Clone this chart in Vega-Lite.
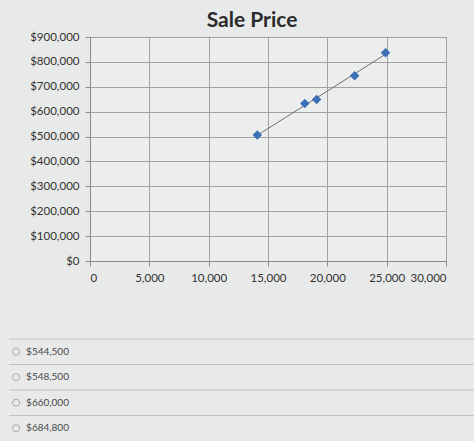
{
  "$schema": "https://vega.github.io/schema/vega-lite/v6.json",
  "background": "#e8eae9",
  "padding": {"left": 8, "top": 9, "right": 0, "bottom": 0},
  "spacing": 54,
  "vconcat": [
    {
      "width": 356,
      "height": 224,
      "title": {
        "text": "Sale Price",
        "font": "Lato",
        "fontSize": 21,
        "fontWeight": "bold",
        "color": "#2b2b2b",
        "anchor": "middle",
        "dx": -16,
        "offset": 0
      },
      "data": {
        "values": [
          {"size": 14100, "price": 506000},
          {"size": 18100, "price": 633000},
          {"size": 19100, "price": 649000},
          {"size": 22300, "price": 744000},
          {"size": 24900, "price": 837000}
        ]
      },
      "encoding": {
        "x": {
          "field": "size",
          "type": "quantitative",
          "scale": {"domain": [0, 30000], "nice": false},
          "axis": {"values": [0, 5000, 10000, 15000, 20000, 25000, 30000], "format": ",d", "title": null}
        },
        "y": {
          "field": "price",
          "type": "quantitative",
          "scale": {"domain": [0, 900000], "nice": false},
          "axis": {
            "values": [0, 100000, 200000, 300000, 400000, 500000, 600000, 700000, 800000, 900000],
            "format": "$,.0f",
            "title": null,
            "minExtent": 81
          }
        }
      },
      "layer": [
        {
          "transform": [{"regression": "price", "on": "size"}],
          "mark": {"type": "line", "color": "#6e6e6e", "strokeWidth": 1}
        },
        {
          "mark": {"type": "point", "shape": "diamond", "filled": true, "color": "#3b6fb6", "size": 90, "opacity": 1}
        }
      ]
    },
    {
      "width": 385,
      "height": 102,
      "view": {"stroke": null, "fill": null},
      "data": {
        "values": [
          {"option": "$544,500"},
          {"option": "$548,500"},
          {"option": "$660,000"},
          {"option": "$684,800"}
        ]
      },
      "encoding": {
        "y": {
          "field": "option",
          "type": "ordinal",
          "sort": null,
          "axis": null,
          "scale": {"type": "band", "paddingInner": 0, "paddingOuter": 0}
        }
      },
      "layer": [
        {
          "mark": {"type": "rule", "color": "#c2c2c2", "strokeWidth": 1},
          "encoding": {
            "y": {"field": "option", "type": "ordinal", "sort": null, "bandPosition": 0, "axis": null},
            "x": {"datum": -21, "type": "quantitative", "scale": {"domain": [0, 100], "nice": false, "zero": false}, "axis": null},
            "x2": {"datum": 100}
          }
        },
        {
          "mark": {"type": "point", "shape": "circle", "filled": false, "color": "#8f8f8f", "size": 50, "strokeWidth": 1},
          "encoding": {
            "x": {"datum": -19.2, "type": "quantitative", "axis": null}
          }
        },
        {
          "mark": {"type": "text", "align": "left", "font": "Lato", "fontSize": 10, "color": "#4a4a4a"},
          "encoding": {
            "x": {"datum": -16.6, "type": "quantitative", "axis": null},
            "text": {"field": "option"}
          }
        }
      ]
    }
  ],
  "config": {
    "view": {"stroke": "#8c8c8c", "fill": "#eceeed"},
    "axis": {
      "labelFont": "Lato",
      "labelFontSize": 11.5,
      "labelColor": "#333333",
      "gridColor": "#a2a2a2",
      "gridOpacity": 1,
      "domainColor": "#8c8c8c",
      "tickColor": "#8c8c8c",
      "tickSize": 5,
      "labelPadding": 6
    }
  }
}
